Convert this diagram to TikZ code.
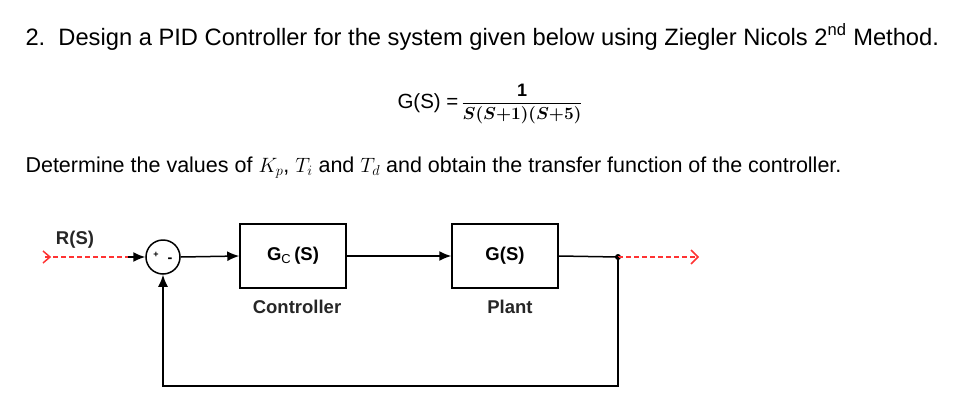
\documentclass[tikz,border=0pt]{standalone}
\usepackage{amsmath,bm}
\usepackage{fontspec}
\setmainfont{Liberation Sans}
\usetikzlibrary{arrows.meta}
\begin{document}
\begin{tikzpicture}[x=1pt,y=-1pt,
  blk/.style={draw,line width=1.5pt,minimum width=106pt,minimum height=64pt,font=\fontsize{18.5}{20}\selectfont\bfseries},
  lbl/.style={font=\fontsize{18.5}{20}\selectfont\bfseries\color{black!85}},
  sig/.style={line width=1.5pt,-{Latex[length=12pt,width=10pt]}},
  red/.style={draw=red!80,dash pattern=on 5pt off 3pt,line width=1.5pt}]
\useasboundingbox (0,0) rectangle (961,418);
\node[anchor=base west,font=\fontsize{23.7}{28}\selectfont] (title) at (22,45) {2.\ \ Design a PID Controller for the system given below using Ziegler Nicols 2\textsuperscript{nd} Method.};
\node[anchor=base east,font=\fontsize{20.5}{24}\selectfont] (gs) at (462,108) {G(S) =};
\node[anchor=west,font=\fontsize{18}{22}\selectfont] (frac) at (458,104) {$\displaystyle\frac{\mathbf{1}}{\bm{S(S{+}1)(S{+}5)}}$};
\node[anchor=base west,font=\fontsize{21.5}{26}\selectfont] (det) at (22,172) {Determine the values of $K_p$, $T_i$ and $T_d$ and obtain the transfer function of the controller.};
\node[lbl] (rs) at (75,240) {R(S)};
\node[draw,circle,line width=1.5pt,minimum size=34pt,inner sep=0pt] (sum) at (163,257) {};
\node[font=\bfseries\small] (plus) at (156,255) {+};
\node[font=\bfseries\Large] (minus) at (170,260) {-};
\node[blk] (gc) at (293,256) {G$_\mathrm{C}$\,(S)};
\node[blk] (g) at (505,256) {G(S)};
\node[lbl] (ctl) at (297,307) {Controller};
\node[lbl] (pl) at (510,307) {Plant};
\coordinate (in) at (45,257);
\coordinate (inarr) at (128,257);
\coordinate (out) at (618,257);
\coordinate (outend) at (698,257);
\coordinate (fb1) at (618,386);
\coordinate (fb2) at (163,386);
\draw[red] (in) -- (inarr);
\draw[red,solid,line width=1.5pt] (43,251) -- (50,257) -- (43,263);
\draw[sig] (inarr) -- (sum.west);
\draw[sig] (sum.east) -- (gc.west);
\draw[sig] (gc.east) -- (g.west);
\draw[line width=1.5pt] (g.east) -- (out);
\fill (out) circle (3pt);
\draw[red] (out) -- (outend);
\draw[red,solid,line width=1.5pt] (691,250) -- (698,257) -- (691,264);
\draw[sig] (out) -- (fb1) -- (fb2) -- (sum.south);
\end{tikzpicture}
\end{document}
